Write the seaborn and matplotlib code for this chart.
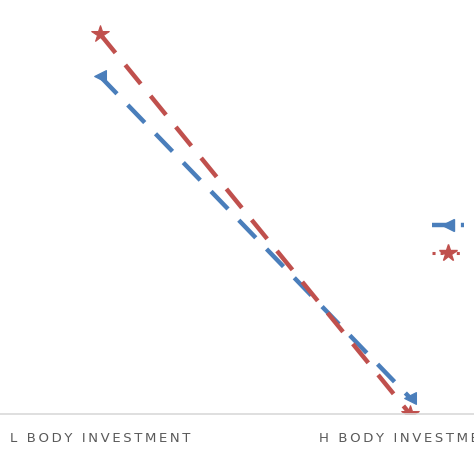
import pandas as pd
import matplotlib
matplotlib.use("Agg")
import matplotlib.pyplot as plt
from matplotlib.lines import Line2D
import seaborn as sns

sns.set_theme(style="white")
plt.rcParams['font.family'] = ['DejaVu Sans']

categories = ['L BODY INVESTMENT', 'H BODY INVESTMENT']
series_names = ['Series1', 'Series2']
blue_values = [0.816, 0.039]
red_values = [0.918, 0.0]

df = pd.DataFrame({
    'Category': categories * 2,
    'Value': blue_values + red_values,
    'Series': [series_names[0]] * 2 + [series_names[1]] * 2,
})

BLUE = '#4a7ebb'
RED = '#c0504d'

fig = plt.figure(figsize=(4.74, 4.74), dpi=100)
# plot area is wider than the visible picture (cropped Excel chart)
ax = fig.add_axes([-0.116, 0.1266, 1.308, 0.8734])

for name, color, marker, ms in [(series_names[0], BLUE, '<', 9), (series_names[1], RED, '*', 13)]:
    sub = df[df['Series'] == name]
    sns.lineplot(data=sub, x='Category', y='Value', ax=ax, color=color,
                 linewidth=3.2, dashes=False, marker=marker, markersize=ms,
                 markeredgecolor=color, legend=False)
    ax.lines[-1].set_dashes([5.5, 3.5])

ax.set_xlim(-0.5, 1.5)
ax.set_ylim(0, 1.0)
ax.set_xlabel('')
ax.set_ylabel('')
ax.set_yticks([])
for s in ['top', 'right', 'left']:
    ax.spines[s].set_visible(False)
ax.spines['bottom'].set_color('#d9d9d9')
ax.spines['bottom'].set_linewidth(1.2)

# letter-spaced tick labels like the Excel original
ax.set_xticks([0, 1])
ax.set_xticklabels(['\u2009'.join(c) for c in categories])
ax.tick_params(axis='x', length=0, pad=13, labelsize=9.5, labelcolor='#595959')

handles = [
    Line2D([], [], color=BLUE, lw=3.2, dashes=[5, 1.5], marker='<', markersize=9),
    Line2D([], [], color=RED, lw=2.2, linestyle=':', marker='*', markersize=13),
]
fig.legend(handles, series_names, loc='upper left', bbox_to_anchor=(0.885, 0.565),
           frameon=False, handlelength=2.3, fontsize=10, labelspacing=1.0)

fig.savefig('out.png', dpi=100)
